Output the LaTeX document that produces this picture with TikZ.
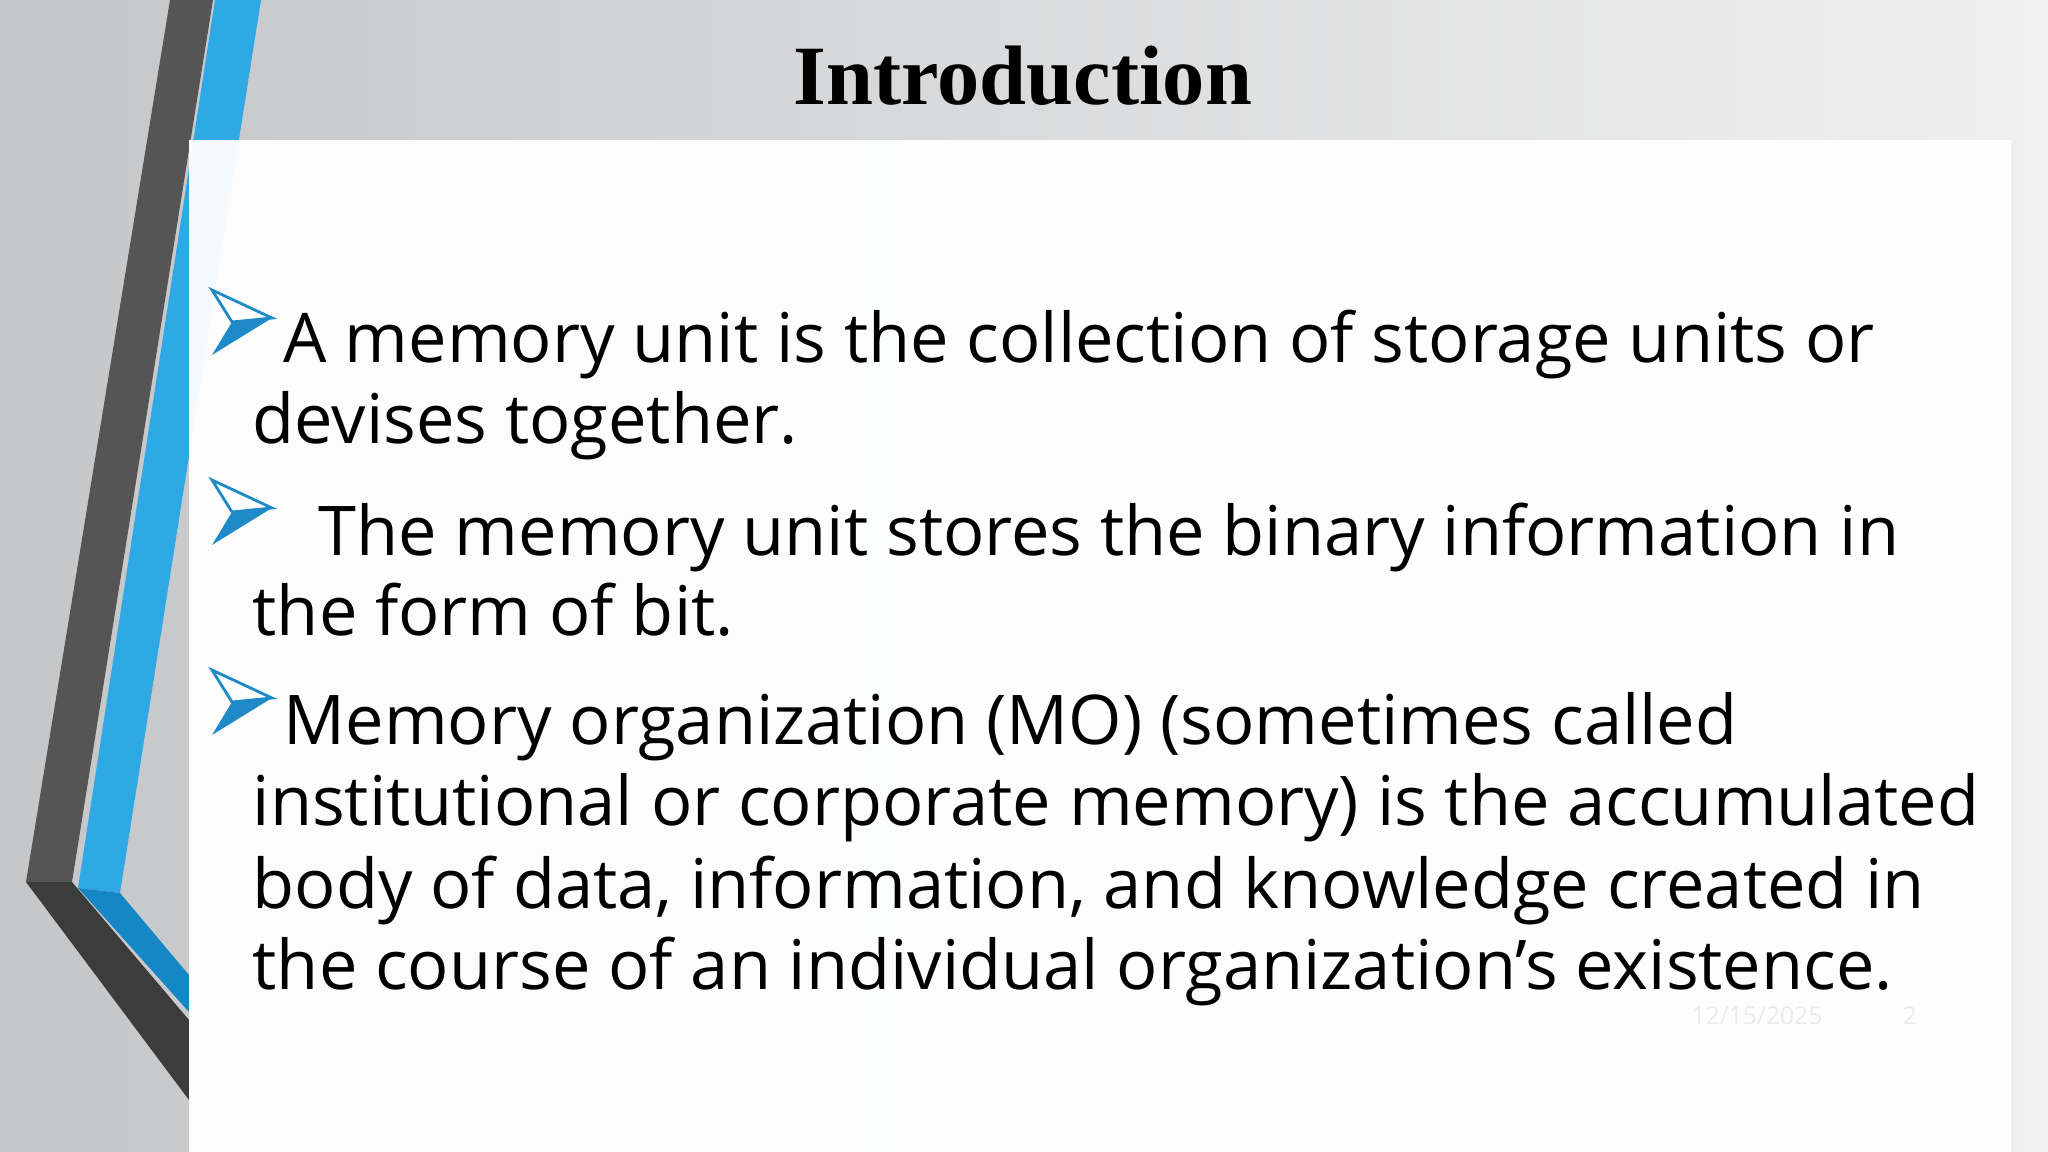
\documentclass[tikz,border=0pt]{standalone}
\usepackage{fontspec}
\setmainfont{Open Sans}
\newfontfamily\titlefont{Liberation Serif}
\begin{document}
\begin{tikzpicture}[x=0.01cm,y=-0.01cm,
  body/.style={anchor=base west,inner sep=0pt,font=\fontsize{19.5pt}{22pt}\selectfont,text=black},
  datetxt/.style={anchor=base,inner sep=0pt,font=\fontsize{7pt}{8pt}\selectfont,text=black!8}]
\definecolor{bgl}{HTML}{C4C6C8}\definecolor{bgr}{HTML}{F0F0F0}
\definecolor{dk}{HTML}{555555}\definecolor{dkk}{HTML}{3C3C3C}
\definecolor{bl}{HTML}{2FA8E6}\definecolor{bld}{HTML}{1587C6}
\definecolor{bul}{HTML}{1E8BC8}
\useasboundingbox (0,0) rectangle (2048,1152);
\shade[left color=bgl,right color=bgr] (0,0) rectangle (2048,1152);
% decoration strips
\fill[dk] (170,0) -- (213,0) -- (72,882) -- (26,882) -- cycle;
\fill[dkk] (26,882) -- (72,882) -- (189,1020) -- (189,1100) -- cycle;
\fill[bl] (215,0) -- (261,0) -- (120,893) -- (78,888) -- cycle;
\fill[bld] (78,888) -- (120,893) -- (189,975) -- (189,1012) -- cycle;
% panel
\fill[white,opacity=0.95] (189,140) rectangle (2011,1152);
% title
\node[inner sep=0pt,font=\titlefont\fontsize{24pt}{28pt}\selectfont\bfseries] (title) at (1023,76) {Introduction};
% bullets
\foreach \n/\y in {b1/322,b2/512,b3/702}{
  \fill[bul] (212,\y+33) -- (272,\y-4) -- (232,\y) -- cycle;
  \filldraw[draw=bul,fill=white,line width=0.8pt] (212,\y-32) -- (272,\y-4) -- (232,\y) -- cycle;
}
\node[body] (l1) at (283,363) {A memory unit is the collection of storage units or};
\node[body] (l2) at (252,444) {devises together.};
\node[body] (l3) at (318,555) {The memory unit stores the binary information in};
\node[body] (l4) at (252,636) {the form of bit.};
\node[body] (l5) at (283,744) {Memory organization (MO) (sometimes called};
\node[body] (l6) at (252,825) {institutional or corporate memory) is the accumulated};
\node[body] (l7) at (252,908) {body of data, information, and knowledge created in};
\node[body] (l8) at (252,989) {the course of an individual organization’s existence.};
\node[datetxt] (date) at (1757,1024) {12/15/2025};
\node[datetxt] (pg) at (1910,1024) {2};
\end{tikzpicture}
\end{document}
